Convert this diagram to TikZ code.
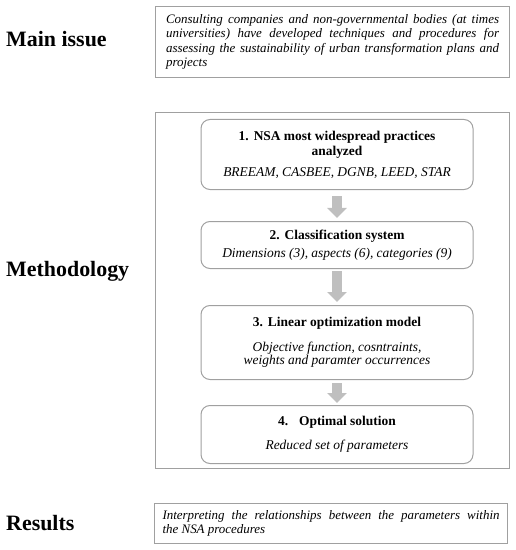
\documentclass[tikz,border=0pt]{standalone}
\usepackage{fontspec}
\setmainfont{Liberation Serif}
\usetikzlibrary{arrows.meta}
\definecolor{framegray}{HTML}{A0A0A0}
\definecolor{arrowgray}{HTML}{BFBFBF}
\newcommand\tbf{\fontsize{13.5}{15}\selectfont\bfseries\upshape}
\newcommand\tit{\fontsize{13.5}{16}\selectfont\mdseries\itshape}
\begin{document}
\begin{tikzpicture}[x=1bp,y=-1bp,
  headlabel/.style={font=\fontsize{22}{24}\selectfont\bfseries, anchor=west, inner sep=0pt},
  plainbox/.style={draw=framegray, line width=1.1bp, anchor=north west, inner ysep=0pt,
     font=\fontsize{13}{14.5}\selectfont\itshape, align=justify},
  stepbox/.style={draw=framegray, line width=1bp, rounded corners=9bp, anchor=north,
     minimum width=272bp, text width=260bp, align=center, inner xsep=6bp, inner ysep=0pt},
  flowarrow/.style={draw=arrowgray, line width=9.5bp, -{Triangle[width=19bp,length=10bp]}}
]
\useasboundingbox (0,0) rectangle (516,550);

% side labels
\node[headlabel] (lissue) at (6,39) {Main issue};
\node[headlabel] (lmeth) at (6,271) {Methodology};
\node[headlabel] (lres) at (6,523) {Results};

% main issue box
\node[plainbox, text width=333bp, inner xsep=10.5bp, minimum height=71bp] (issue) at (155,6)
  {Consulting companies and non-governmental bodies (at times\linebreak
   universities) have developed techniques and procedures for\linebreak
   assessing the sustainability of urban transformation plans and\linebreak
   projects};

% methodology frame
\node[draw=framegray, line width=1.1bp, anchor=north west, minimum width=354bp,
      minimum height=356bp, inner sep=0pt] (frame) at (155,112) {};

% steps
\node[stepbox, minimum height=70bp] (s1) at (337,119)
  {\tbf 1. NSA most widespread practices\\\tbf analyzed\\[9bp]
   \tit BREEAM, CASBEE, DGNB, LEED, STAR};
\node[stepbox, minimum height=47bp] (s2) at (337,221)
  {\tbf 2. Classification system\\[5bp]
   \tit Dimensions (3), aspects (6), categories (9)};
\node[stepbox, minimum height=74bp] (s3) at (337,305)
  {\tbf 3. Linear optimization model\\[9bp]
   \tit Objective function, cosntraints,\\\tit weights and paramter occurrences};
\node[stepbox, minimum height=58bp] (s4) at (337,405)
  {\tbf 4.\hspace{0.8em}Optimal solution\\[11bp]
   \tit Reduced set of parameters};

% arrows
\draw[flowarrow] ([yshift=-6bp]s1.south) -- ([yshift=3bp]s2.north);
\draw[flowarrow] ([yshift=-2bp]s2.south) -- ([yshift=3bp]s3.north);
\draw[flowarrow] ([yshift=-3bp]s3.south) -- ([yshift=2bp]s4.north);

% results box
\node[plainbox, text width=337bp, inner xsep=8bp, minimum height=40bp] (res) at (154,503)
  {Interpreting the relationships between the parameters within\linebreak
   the NSA procedures};
\end{tikzpicture}
\end{document}
